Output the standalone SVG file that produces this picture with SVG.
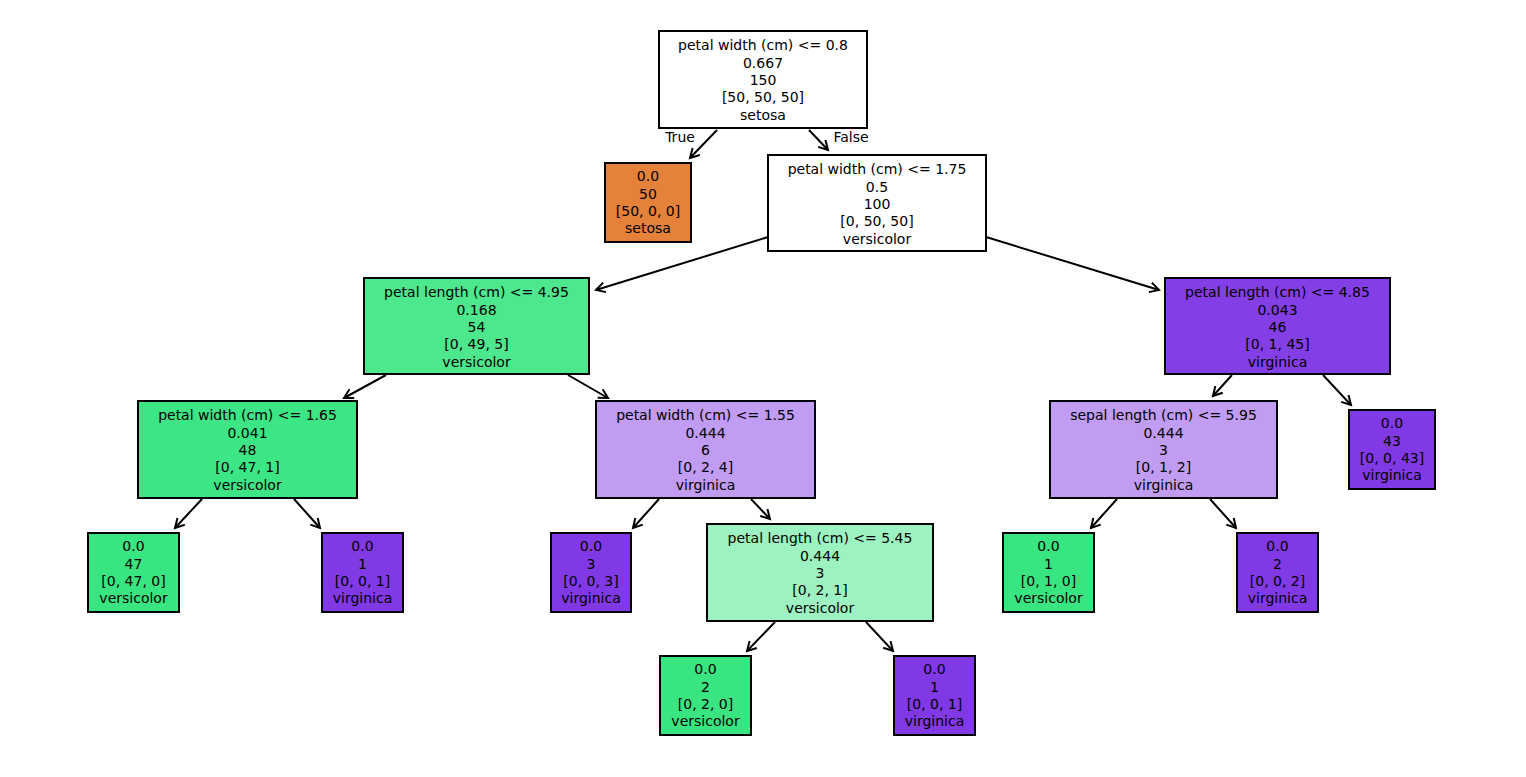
<svg xmlns="http://www.w3.org/2000/svg" width="1526" height="777" viewBox="0 0 1526 777">
<style>
rect{stroke:#000;stroke-width:2}
text{font-family:"DejaVu Sans",sans-serif;font-size:14px;text-anchor:middle;fill:#000}
.c line{stroke:#000;stroke-width:2;marker-end:url(#a)}
</style>
<defs><marker id="a" markerUnits="userSpaceOnUse" markerWidth="14" markerHeight="14" refX="11" refY="6" orient="auto"><path d="M2,1 L11,6 L2,11" fill="none" stroke="#000" stroke-width="2"/></marker></defs>
<rect width="1526" height="777" fill="#fff" style="stroke:none"/>
<g class="c">
<line x1="717" y1="130" x2="690" y2="158"/>
<line x1="809" y1="130" x2="828" y2="150"/>
<line x1="768" y1="237" x2="596" y2="290"/>
<line x1="986" y1="237" x2="1159" y2="290"/>
<line x1="386" y1="375" x2="344" y2="398"/>
<line x1="568" y1="375" x2="608" y2="398"/>
<line x1="1232" y1="375" x2="1213" y2="396"/>
<line x1="1323" y1="375" x2="1351" y2="405"/>
<line x1="202" y1="499" x2="175" y2="528"/>
<line x1="294" y1="499" x2="320" y2="528"/>
<line x1="659" y1="499" x2="633" y2="528"/>
<line x1="751" y1="499" x2="770" y2="519"/>
<line x1="1117" y1="499" x2="1091" y2="528"/>
<line x1="1210" y1="499" x2="1236" y2="528"/>
<line x1="775" y1="622" x2="747" y2="651"/>
<line x1="866" y1="622" x2="893" y2="651"/>
<text x="680" y="142">True</text>
<text x="851" y="142">False</text>
</g>
<g id="n0"><rect x="659" y="31" width="208" height="97" fill="#fff"/><text x="763" y="50">petal width (cm) &lt;= 0.8</text><text x="763" y="67.5">0.667</text><text x="763" y="85">150</text><text x="763" y="102">[50, 50, 50]</text><text x="763" y="119.5">setosa</text></g>
<g id="n1"><rect x="605" y="163" width="86" height="79" fill="#e58139"/><text x="648" y="181">0.0</text><text x="648" y="198.5">50</text><text x="648" y="216">[50, 0, 0]</text><text x="648" y="233">setosa</text></g>
<g id="n2"><rect x="768" y="155" width="218" height="96" fill="#fff"/><text x="877" y="174">petal width (cm) &lt;= 1.75</text><text x="877" y="191.5">0.5</text><text x="877" y="209">100</text><text x="877" y="226">[0, 50, 50]</text><text x="877" y="243.5">versicolor</text></g>
<g id="n3"><rect x="364" y="278" width="225" height="96" fill="#4de88e"/><text x="476.5" y="297">petal length (cm) &lt;= 4.95</text><text x="476.5" y="314.5">0.168</text><text x="476.5" y="332">54</text><text x="476.5" y="349">[0, 49, 5]</text><text x="476.5" y="366.5">versicolor</text></g>
<g id="n4"><rect x="1165" y="278" width="225" height="96" fill="#843ee6"/><text x="1277.5" y="297">petal length (cm) &lt;= 4.85</text><text x="1277.5" y="314.5">0.043</text><text x="1277.5" y="332">46</text><text x="1277.5" y="349">[0, 1, 45]</text><text x="1277.5" y="366.5">virginica</text></g>
<g id="n5"><rect x="138" y="401" width="219" height="97" fill="#3de684"/><text x="247.5" y="420">petal width (cm) &lt;= 1.65</text><text x="247.5" y="437.5">0.041</text><text x="247.5" y="455">48</text><text x="247.5" y="472">[0, 47, 1]</text><text x="247.5" y="489.5">versicolor</text></g>
<g id="n6"><rect x="596" y="401" width="219" height="97" fill="#c09cf2"/><text x="705.5" y="420">petal width (cm) &lt;= 1.55</text><text x="705.5" y="437.5">0.444</text><text x="705.5" y="455">6</text><text x="705.5" y="472">[0, 2, 4]</text><text x="705.5" y="489.5">virginica</text></g>
<g id="n7"><rect x="1050" y="401" width="227" height="97" fill="#c09cf2"/><text x="1163.5" y="420">sepal length (cm) &lt;= 5.95</text><text x="1163.5" y="437.5">0.444</text><text x="1163.5" y="455">3</text><text x="1163.5" y="472">[0, 1, 2]</text><text x="1163.5" y="489.5">virginica</text></g>
<g id="n8"><rect x="1349" y="410" width="86" height="79" fill="#8139e5"/><text x="1392" y="428">0.0</text><text x="1392" y="445.5">43</text><text x="1392" y="463">[0, 0, 43]</text><text x="1392" y="480">virginica</text></g>
<g id="n9"><rect x="88" y="533" width="91" height="79" fill="#39e581"/><text x="133.5" y="551">0.0</text><text x="133.5" y="568.5">47</text><text x="133.5" y="586">[0, 47, 0]</text><text x="133.5" y="603">versicolor</text></g>
<g id="n10"><rect x="322" y="533" width="81" height="79" fill="#8139e5"/><text x="362.5" y="551">0.0</text><text x="362.5" y="568.5">1</text><text x="362.5" y="586">[0, 0, 1]</text><text x="362.5" y="603">virginica</text></g>
<g id="n11"><rect x="551" y="533" width="80" height="79" fill="#8139e5"/><text x="591" y="551">0.0</text><text x="591" y="568.5">3</text><text x="591" y="586">[0, 0, 3]</text><text x="591" y="603">virginica</text></g>
<g id="n12"><rect x="707" y="524" width="226" height="97" fill="#9cf2c0"/><text x="820" y="543">petal length (cm) &lt;= 5.45</text><text x="820" y="560.5">0.444</text><text x="820" y="578">3</text><text x="820" y="595">[0, 2, 1]</text><text x="820" y="612.5">versicolor</text></g>
<g id="n13"><rect x="1003" y="533" width="91" height="79" fill="#39e581"/><text x="1048.5" y="551">0.0</text><text x="1048.5" y="568.5">1</text><text x="1048.5" y="586">[0, 1, 0]</text><text x="1048.5" y="603">versicolor</text></g>
<g id="n14"><rect x="1237" y="533" width="81" height="79" fill="#8139e5"/><text x="1277.5" y="551">0.0</text><text x="1277.5" y="568.5">2</text><text x="1277.5" y="586">[0, 0, 2]</text><text x="1277.5" y="603">virginica</text></g>
<g id="n15"><rect x="660" y="656" width="91" height="79" fill="#39e581"/><text x="705.5" y="674">0.0</text><text x="705.5" y="691.5">2</text><text x="705.5" y="709">[0, 2, 0]</text><text x="705.5" y="726">versicolor</text></g>
<g id="n16"><rect x="894" y="656" width="81" height="79" fill="#8139e5"/><text x="934.5" y="674">0.0</text><text x="934.5" y="691.5">1</text><text x="934.5" y="709">[0, 0, 1]</text><text x="934.5" y="726">virginica</text></g>
</svg>
